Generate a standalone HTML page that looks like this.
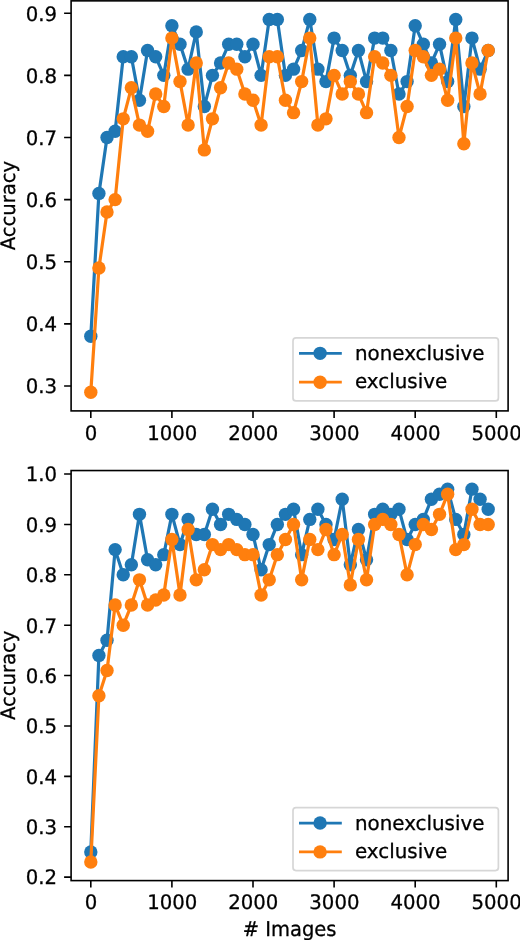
<!DOCTYPE html>
<html lang="en"><head><meta charset="utf-8"><title>Accuracy vs # Images</title>
<style>
html,body{margin:0;padding:0;background:#fff;}
body{width:520px;height:940px;overflow:hidden;}
svg{display:block;}
svg text{font-family:"DejaVu Sans","Liberation Sans",sans-serif;font-size:20.0px;fill:#000;stroke:#000;stroke-width:0.3px;text-rendering:geometricPrecision;}
</style></head><body>
<svg width="520" height="940" viewBox="0 0 520 940">
<rect width="520" height="940" fill="#fff"/>
<g id="chart-top">
<polyline points="90.80,336.30 98.91,193.41 107.02,137.50 115.13,131.29 123.24,56.74 131.35,56.74 139.46,100.23 147.57,50.53 155.68,56.74 163.79,75.37 171.90,25.68 180.01,44.31 188.12,69.16 196.23,31.89 204.34,106.44 212.45,75.37 220.56,62.95 228.67,44.31 236.78,44.31 244.89,56.74 253.00,44.31 261.11,75.37 269.22,19.46 277.33,19.46 285.44,75.37 293.55,69.16 301.66,50.53 309.77,19.46 317.88,69.16 325.99,81.59 334.10,38.10 342.21,50.53 350.32,75.37 358.43,50.53 366.54,81.59 374.65,38.10 382.76,38.10 390.87,50.53 398.98,94.01 407.09,81.59 415.20,25.68 423.31,44.31 431.42,62.95 439.53,44.31 447.64,81.59 455.75,19.46 463.86,106.44 471.97,38.10 480.08,69.16 488.19,50.53" fill="none" stroke="#1f77b4" stroke-width="3.2" stroke-linejoin="round" stroke-linecap="square"/>
<g fill="#1f77b4"><circle cx="90.80" cy="336.30" r="6.7"/><circle cx="98.91" cy="193.41" r="6.7"/><circle cx="107.02" cy="137.50" r="6.7"/><circle cx="115.13" cy="131.29" r="6.7"/><circle cx="123.24" cy="56.74" r="6.7"/><circle cx="131.35" cy="56.74" r="6.7"/><circle cx="139.46" cy="100.23" r="6.7"/><circle cx="147.57" cy="50.53" r="6.7"/><circle cx="155.68" cy="56.74" r="6.7"/><circle cx="163.79" cy="75.37" r="6.7"/><circle cx="171.90" cy="25.68" r="6.7"/><circle cx="180.01" cy="44.31" r="6.7"/><circle cx="188.12" cy="69.16" r="6.7"/><circle cx="196.23" cy="31.89" r="6.7"/><circle cx="204.34" cy="106.44" r="6.7"/><circle cx="212.45" cy="75.37" r="6.7"/><circle cx="220.56" cy="62.95" r="6.7"/><circle cx="228.67" cy="44.31" r="6.7"/><circle cx="236.78" cy="44.31" r="6.7"/><circle cx="244.89" cy="56.74" r="6.7"/><circle cx="253.00" cy="44.31" r="6.7"/><circle cx="261.11" cy="75.37" r="6.7"/><circle cx="269.22" cy="19.46" r="6.7"/><circle cx="277.33" cy="19.46" r="6.7"/><circle cx="285.44" cy="75.37" r="6.7"/><circle cx="293.55" cy="69.16" r="6.7"/><circle cx="301.66" cy="50.53" r="6.7"/><circle cx="309.77" cy="19.46" r="6.7"/><circle cx="317.88" cy="69.16" r="6.7"/><circle cx="325.99" cy="81.59" r="6.7"/><circle cx="334.10" cy="38.10" r="6.7"/><circle cx="342.21" cy="50.53" r="6.7"/><circle cx="350.32" cy="75.37" r="6.7"/><circle cx="358.43" cy="50.53" r="6.7"/><circle cx="366.54" cy="81.59" r="6.7"/><circle cx="374.65" cy="38.10" r="6.7"/><circle cx="382.76" cy="38.10" r="6.7"/><circle cx="390.87" cy="50.53" r="6.7"/><circle cx="398.98" cy="94.01" r="6.7"/><circle cx="407.09" cy="81.59" r="6.7"/><circle cx="415.20" cy="25.68" r="6.7"/><circle cx="423.31" cy="44.31" r="6.7"/><circle cx="431.42" cy="62.95" r="6.7"/><circle cx="439.53" cy="44.31" r="6.7"/><circle cx="447.64" cy="81.59" r="6.7"/><circle cx="455.75" cy="19.46" r="6.7"/><circle cx="463.86" cy="106.44" r="6.7"/><circle cx="471.97" cy="38.10" r="6.7"/><circle cx="480.08" cy="69.16" r="6.7"/><circle cx="488.19" cy="50.53" r="6.7"/></g>
<polyline points="90.80,392.21 98.91,267.96 107.02,212.05 115.13,199.63 123.24,118.86 131.35,87.80 139.46,125.08 147.57,131.29 155.68,94.01 163.79,106.44 171.90,38.10 180.01,81.59 188.12,125.08 196.23,62.95 204.34,149.92 212.45,118.86 220.56,87.80 228.67,62.95 236.78,69.16 244.89,94.01 253.00,100.23 261.11,125.08 269.22,56.74 277.33,56.74 285.44,100.23 293.55,112.65 301.66,81.59 309.77,38.10 317.88,125.08 325.99,118.86 334.10,75.37 342.21,94.01 350.32,81.59 358.43,94.01 366.54,112.65 374.65,56.74 382.76,62.95 390.87,75.37 398.98,137.50 407.09,106.44 415.20,50.53 423.31,56.74 431.42,75.37 439.53,69.16 447.64,100.23 455.75,38.10 463.86,143.71 471.97,62.95 480.08,94.01 488.19,50.53" fill="none" stroke="#ff7f0e" stroke-width="3.2" stroke-linejoin="round" stroke-linecap="square"/>
<g fill="#ff7f0e"><circle cx="90.80" cy="392.21" r="6.7"/><circle cx="98.91" cy="267.96" r="6.7"/><circle cx="107.02" cy="212.05" r="6.7"/><circle cx="115.13" cy="199.63" r="6.7"/><circle cx="123.24" cy="118.86" r="6.7"/><circle cx="131.35" cy="87.80" r="6.7"/><circle cx="139.46" cy="125.08" r="6.7"/><circle cx="147.57" cy="131.29" r="6.7"/><circle cx="155.68" cy="94.01" r="6.7"/><circle cx="163.79" cy="106.44" r="6.7"/><circle cx="171.90" cy="38.10" r="6.7"/><circle cx="180.01" cy="81.59" r="6.7"/><circle cx="188.12" cy="125.08" r="6.7"/><circle cx="196.23" cy="62.95" r="6.7"/><circle cx="204.34" cy="149.92" r="6.7"/><circle cx="212.45" cy="118.86" r="6.7"/><circle cx="220.56" cy="87.80" r="6.7"/><circle cx="228.67" cy="62.95" r="6.7"/><circle cx="236.78" cy="69.16" r="6.7"/><circle cx="244.89" cy="94.01" r="6.7"/><circle cx="253.00" cy="100.23" r="6.7"/><circle cx="261.11" cy="125.08" r="6.7"/><circle cx="269.22" cy="56.74" r="6.7"/><circle cx="277.33" cy="56.74" r="6.7"/><circle cx="285.44" cy="100.23" r="6.7"/><circle cx="293.55" cy="112.65" r="6.7"/><circle cx="301.66" cy="81.59" r="6.7"/><circle cx="309.77" cy="38.10" r="6.7"/><circle cx="317.88" cy="125.08" r="6.7"/><circle cx="325.99" cy="118.86" r="6.7"/><circle cx="334.10" cy="75.37" r="6.7"/><circle cx="342.21" cy="94.01" r="6.7"/><circle cx="350.32" cy="81.59" r="6.7"/><circle cx="358.43" cy="94.01" r="6.7"/><circle cx="366.54" cy="112.65" r="6.7"/><circle cx="374.65" cy="56.74" r="6.7"/><circle cx="382.76" cy="62.95" r="6.7"/><circle cx="390.87" cy="75.37" r="6.7"/><circle cx="398.98" cy="137.50" r="6.7"/><circle cx="407.09" cy="106.44" r="6.7"/><circle cx="415.20" cy="50.53" r="6.7"/><circle cx="423.31" cy="56.74" r="6.7"/><circle cx="431.42" cy="75.37" r="6.7"/><circle cx="439.53" cy="69.16" r="6.7"/><circle cx="447.64" cy="100.23" r="6.7"/><circle cx="455.75" cy="38.10" r="6.7"/><circle cx="463.86" cy="143.71" r="6.7"/><circle cx="471.97" cy="62.95" r="6.7"/><circle cx="480.08" cy="94.01" r="6.7"/><circle cx="488.19" cy="50.53" r="6.7"/></g>
<rect x="71.10" y="0.85" width="437.00" height="410.05" fill="none" stroke="#000" stroke-width="1.6"/>
<path d="M90.80 410.90v7.0M171.90 410.90v7.0M253.00 410.90v7.0M334.10 410.90v7.0M415.20 410.90v7.0M496.30 410.90v7.0M71.10 386.00h-7.0M71.10 323.88h-7.0M71.10 261.75h-7.0M71.10 199.63h-7.0M71.10 137.50h-7.0M71.10 75.37h-7.0M71.10 13.25h-7.0" stroke="#000" stroke-width="1.6" fill="none"/>
<text transform="translate(91.10 440.00) scale(0.985 1.0)" text-anchor="middle">0</text>
<text transform="translate(172.20 440.00) scale(0.985 1.0)" text-anchor="middle">1000</text>
<text transform="translate(253.30 440.00) scale(0.985 1.0)" text-anchor="middle">2000</text>
<text transform="translate(334.40 440.00) scale(0.985 1.0)" text-anchor="middle">3000</text>
<text transform="translate(415.50 440.00) scale(0.985 1.0)" text-anchor="middle">4000</text>
<text transform="translate(496.60 440.00) scale(0.985 1.0)" text-anchor="middle">5000</text>
<text transform="translate(57.10 393.00) scale(0.985 1.0)" text-anchor="end">0.3</text>
<text transform="translate(57.10 331.00) scale(0.985 1.0)" text-anchor="end">0.4</text>
<text transform="translate(57.10 269.00) scale(0.985 1.0)" text-anchor="end">0.5</text>
<text transform="translate(57.10 207.00) scale(0.985 1.0)" text-anchor="end">0.6</text>
<text transform="translate(57.10 145.00) scale(0.985 1.0)" text-anchor="end">0.7</text>
<text transform="translate(57.10 83.00) scale(0.985 1.0)" text-anchor="end">0.8</text>
<text transform="translate(57.10 21.00) scale(0.985 1.0)" text-anchor="end">0.9</text>
<text transform="translate(14.80 205.57) rotate(-90) scale(0.98 1.0)" text-anchor="middle">Accuracy</text>
<rect x="293.00" y="337.90" width="205.40" height="63.00" rx="3" ry="3" fill="#fff" fill-opacity="0.8" stroke="#ccc" stroke-opacity="0.8" stroke-width="1.7"/>
<path d="M300.4 353.35h40" stroke="#1f77b4" stroke-width="2.8" stroke-linecap="square"/>
<circle cx="320.1" cy="353.35" r="6.7" fill="#1f77b4"/>
<text transform="translate(355.00 360.00) scale(0.993 1.0)">nonexclusive</text>
<path d="M300.4 382.20h40" stroke="#ff7f0e" stroke-width="2.8" stroke-linecap="square"/>
<circle cx="320.1" cy="382.20" r="6.7" fill="#ff7f0e"/>
<text transform="translate(355.00 388.00) scale(0.993 1.0)">exclusive</text>
</g>
<g id="chart-bottom">
<polyline points="90.80,851.90 98.91,655.42 107.02,640.30 115.13,549.62 123.24,574.81 131.35,564.73 139.46,514.35 147.57,559.70 155.68,564.73 163.79,554.66 171.90,514.35 180.01,544.58 188.12,519.39 196.23,534.51 204.34,534.51 212.45,509.32 220.56,524.43 228.67,514.35 236.78,519.39 244.89,524.43 253.00,534.51 261.11,569.77 269.22,544.58 277.33,524.43 285.44,514.35 293.55,509.32 301.66,554.66 309.77,519.39 317.88,509.32 325.99,524.43 334.10,539.54 342.21,499.24 350.32,564.73 358.43,529.47 366.54,559.70 374.65,514.35 382.76,509.32 390.87,514.35 398.98,509.32 407.09,539.54 415.20,524.43 423.31,519.39 431.42,499.24 439.53,494.20 447.64,489.16 455.75,519.39 463.86,534.51 471.97,489.16 480.08,499.24 488.19,509.32" fill="none" stroke="#1f77b4" stroke-width="3.2" stroke-linejoin="round" stroke-linecap="square"/>
<g fill="#1f77b4"><circle cx="90.80" cy="851.90" r="6.7"/><circle cx="98.91" cy="655.42" r="6.7"/><circle cx="107.02" cy="640.30" r="6.7"/><circle cx="115.13" cy="549.62" r="6.7"/><circle cx="123.24" cy="574.81" r="6.7"/><circle cx="131.35" cy="564.73" r="6.7"/><circle cx="139.46" cy="514.35" r="6.7"/><circle cx="147.57" cy="559.70" r="6.7"/><circle cx="155.68" cy="564.73" r="6.7"/><circle cx="163.79" cy="554.66" r="6.7"/><circle cx="171.90" cy="514.35" r="6.7"/><circle cx="180.01" cy="544.58" r="6.7"/><circle cx="188.12" cy="519.39" r="6.7"/><circle cx="196.23" cy="534.51" r="6.7"/><circle cx="204.34" cy="534.51" r="6.7"/><circle cx="212.45" cy="509.32" r="6.7"/><circle cx="220.56" cy="524.43" r="6.7"/><circle cx="228.67" cy="514.35" r="6.7"/><circle cx="236.78" cy="519.39" r="6.7"/><circle cx="244.89" cy="524.43" r="6.7"/><circle cx="253.00" cy="534.51" r="6.7"/><circle cx="261.11" cy="569.77" r="6.7"/><circle cx="269.22" cy="544.58" r="6.7"/><circle cx="277.33" cy="524.43" r="6.7"/><circle cx="285.44" cy="514.35" r="6.7"/><circle cx="293.55" cy="509.32" r="6.7"/><circle cx="301.66" cy="554.66" r="6.7"/><circle cx="309.77" cy="519.39" r="6.7"/><circle cx="317.88" cy="509.32" r="6.7"/><circle cx="325.99" cy="524.43" r="6.7"/><circle cx="334.10" cy="539.54" r="6.7"/><circle cx="342.21" cy="499.24" r="6.7"/><circle cx="350.32" cy="564.73" r="6.7"/><circle cx="358.43" cy="529.47" r="6.7"/><circle cx="366.54" cy="559.70" r="6.7"/><circle cx="374.65" cy="514.35" r="6.7"/><circle cx="382.76" cy="509.32" r="6.7"/><circle cx="390.87" cy="514.35" r="6.7"/><circle cx="398.98" cy="509.32" r="6.7"/><circle cx="407.09" cy="539.54" r="6.7"/><circle cx="415.20" cy="524.43" r="6.7"/><circle cx="423.31" cy="519.39" r="6.7"/><circle cx="431.42" cy="499.24" r="6.7"/><circle cx="439.53" cy="494.20" r="6.7"/><circle cx="447.64" cy="489.16" r="6.7"/><circle cx="455.75" cy="519.39" r="6.7"/><circle cx="463.86" cy="534.51" r="6.7"/><circle cx="471.97" cy="489.16" r="6.7"/><circle cx="480.08" cy="499.24" r="6.7"/><circle cx="488.19" cy="509.32" r="6.7"/></g>
<polyline points="90.80,861.98 98.91,695.72 107.02,670.53 115.13,605.04 123.24,625.19 131.35,605.04 139.46,579.85 147.57,605.04 155.68,600.00 163.79,594.96 171.90,539.54 180.01,594.96 188.12,529.47 196.23,579.85 204.34,569.77 212.45,544.58 220.56,549.62 228.67,544.58 236.78,549.62 244.89,554.66 253.00,554.66 261.11,594.96 269.22,579.85 277.33,554.66 285.44,539.54 293.55,524.43 301.66,579.85 309.77,539.54 317.88,549.62 325.99,529.47 334.10,554.66 342.21,534.51 350.32,584.89 358.43,539.54 366.54,579.85 374.65,524.43 382.76,519.39 390.87,524.43 398.98,534.51 407.09,574.81 415.20,544.58 423.31,524.43 431.42,529.47 439.53,514.35 447.64,494.20 455.75,549.62 463.86,544.58 471.97,509.32 480.08,524.43 488.19,524.43" fill="none" stroke="#ff7f0e" stroke-width="3.2" stroke-linejoin="round" stroke-linecap="square"/>
<g fill="#ff7f0e"><circle cx="90.80" cy="861.98" r="6.7"/><circle cx="98.91" cy="695.72" r="6.7"/><circle cx="107.02" cy="670.53" r="6.7"/><circle cx="115.13" cy="605.04" r="6.7"/><circle cx="123.24" cy="625.19" r="6.7"/><circle cx="131.35" cy="605.04" r="6.7"/><circle cx="139.46" cy="579.85" r="6.7"/><circle cx="147.57" cy="605.04" r="6.7"/><circle cx="155.68" cy="600.00" r="6.7"/><circle cx="163.79" cy="594.96" r="6.7"/><circle cx="171.90" cy="539.54" r="6.7"/><circle cx="180.01" cy="594.96" r="6.7"/><circle cx="188.12" cy="529.47" r="6.7"/><circle cx="196.23" cy="579.85" r="6.7"/><circle cx="204.34" cy="569.77" r="6.7"/><circle cx="212.45" cy="544.58" r="6.7"/><circle cx="220.56" cy="549.62" r="6.7"/><circle cx="228.67" cy="544.58" r="6.7"/><circle cx="236.78" cy="549.62" r="6.7"/><circle cx="244.89" cy="554.66" r="6.7"/><circle cx="253.00" cy="554.66" r="6.7"/><circle cx="261.11" cy="594.96" r="6.7"/><circle cx="269.22" cy="579.85" r="6.7"/><circle cx="277.33" cy="554.66" r="6.7"/><circle cx="285.44" cy="539.54" r="6.7"/><circle cx="293.55" cy="524.43" r="6.7"/><circle cx="301.66" cy="579.85" r="6.7"/><circle cx="309.77" cy="539.54" r="6.7"/><circle cx="317.88" cy="549.62" r="6.7"/><circle cx="325.99" cy="529.47" r="6.7"/><circle cx="334.10" cy="554.66" r="6.7"/><circle cx="342.21" cy="534.51" r="6.7"/><circle cx="350.32" cy="584.89" r="6.7"/><circle cx="358.43" cy="539.54" r="6.7"/><circle cx="366.54" cy="579.85" r="6.7"/><circle cx="374.65" cy="524.43" r="6.7"/><circle cx="382.76" cy="519.39" r="6.7"/><circle cx="390.87" cy="524.43" r="6.7"/><circle cx="398.98" cy="534.51" r="6.7"/><circle cx="407.09" cy="574.81" r="6.7"/><circle cx="415.20" cy="544.58" r="6.7"/><circle cx="423.31" cy="524.43" r="6.7"/><circle cx="431.42" cy="529.47" r="6.7"/><circle cx="439.53" cy="514.35" r="6.7"/><circle cx="447.64" cy="494.20" r="6.7"/><circle cx="455.75" cy="549.62" r="6.7"/><circle cx="463.86" cy="544.58" r="6.7"/><circle cx="471.97" cy="509.32" r="6.7"/><circle cx="480.08" cy="524.43" r="6.7"/><circle cx="488.19" cy="524.43" r="6.7"/></g>
<rect x="71.10" y="470.55" width="437.00" height="410.05" fill="none" stroke="#000" stroke-width="1.6"/>
<path d="M90.80 880.60v7.0M171.90 880.60v7.0M253.00 880.60v7.0M334.10 880.60v7.0M415.20 880.60v7.0M496.30 880.60v7.0M71.10 877.09h-7.0M71.10 826.71h-7.0M71.10 776.33h-7.0M71.10 725.95h-7.0M71.10 675.57h-7.0M71.10 625.19h-7.0M71.10 574.81h-7.0M71.10 524.43h-7.0M71.10 474.05h-7.0" stroke="#000" stroke-width="1.6" fill="none"/>
<text transform="translate(91.10 909.00) scale(0.985 1.0)" text-anchor="middle">0</text>
<text transform="translate(172.20 909.00) scale(0.985 1.0)" text-anchor="middle">1000</text>
<text transform="translate(253.30 909.00) scale(0.985 1.0)" text-anchor="middle">2000</text>
<text transform="translate(334.40 909.00) scale(0.985 1.0)" text-anchor="middle">3000</text>
<text transform="translate(415.50 909.00) scale(0.985 1.0)" text-anchor="middle">4000</text>
<text transform="translate(496.60 909.00) scale(0.985 1.0)" text-anchor="middle">5000</text>
<text transform="translate(57.10 884.00) scale(0.985 1.0)" text-anchor="end">0.2</text>
<text transform="translate(57.10 834.00) scale(0.985 1.0)" text-anchor="end">0.3</text>
<text transform="translate(57.10 784.00) scale(0.985 1.0)" text-anchor="end">0.4</text>
<text transform="translate(57.10 733.00) scale(0.985 1.0)" text-anchor="end">0.5</text>
<text transform="translate(57.10 683.00) scale(0.985 1.0)" text-anchor="end">0.6</text>
<text transform="translate(57.10 633.00) scale(0.985 1.0)" text-anchor="end">0.7</text>
<text transform="translate(57.10 582.00) scale(0.985 1.0)" text-anchor="end">0.8</text>
<text transform="translate(57.10 532.00) scale(0.985 1.0)" text-anchor="end">0.9</text>
<text transform="translate(57.10 481.00) scale(0.985 1.0)" text-anchor="end">1.0</text>
<text transform="translate(14.80 675.28) rotate(-90) scale(0.98 1.0)" text-anchor="middle">Accuracy</text>
<text transform="translate(289.60 936.00) scale(0.975 1.02)" text-anchor="middle"># Images</text>
<rect x="293.00" y="807.60" width="205.40" height="63.00" rx="3" ry="3" fill="#fff" fill-opacity="0.8" stroke="#ccc" stroke-opacity="0.8" stroke-width="1.7"/>
<path d="M300.4 823.05h40" stroke="#1f77b4" stroke-width="2.8" stroke-linecap="square"/>
<circle cx="320.1" cy="823.05" r="6.7" fill="#1f77b4"/>
<text transform="translate(355.00 830.00) scale(0.993 1.0)">nonexclusive</text>
<path d="M300.4 851.90h40" stroke="#ff7f0e" stroke-width="2.8" stroke-linecap="square"/>
<circle cx="320.1" cy="851.90" r="6.7" fill="#ff7f0e"/>
<text transform="translate(355.00 858.00) scale(0.993 1.0)">exclusive</text>
</g>
</svg>
</body></html>
